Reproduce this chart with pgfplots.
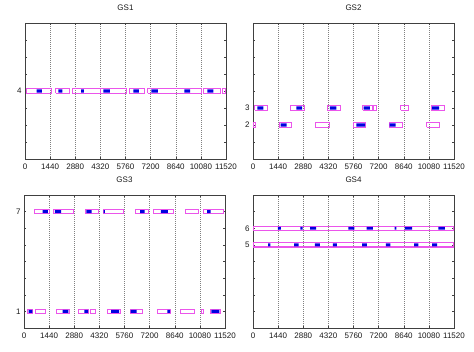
\documentclass[border=0pt]{standalone}
\usepackage{fontspec}
\setmainfont{Liberation Sans}
\usepackage{pgfplots}
\pgfplotsset{compat=1.18}
\definecolor{mag}{RGB}{235,85,235}
\definecolor{job}{RGB}{0,0,225}
\pgfplotsset{
  gs/.style={
    scale only axis, width=201pt,
    anchor=south west,
    xmin=0, xmax=11520, ymin=0, ymax=8,
    xtick={0,1440,2880,4320,5760,7200,8640,10080,11520},
    xticklabels={0,1440,2880,4320,5760,7200,8640,10080,11520},
    scaled x ticks=false,
    ytick={0,1,...,8},
    tick align=inside, major tick length=2pt,
    xmajorgrids,
    grid style={black!50, dash pattern=on 0.6pt off 1.4pt, line width=0.4pt},
    axis line style={black!75, line width=0.5pt},
    tick style={black!75, line width=0.4pt},
    tick label style={font=\fontsize{8}{9}\selectfont, text=black!90},
    xticklabel style={yshift=-1pt},
    title style={font=\fontsize{8}{9}\selectfont, text=black!90, yshift=3pt},
    unbounded coords=jump,
  },
  mbox/.style={draw=mag, line width=0.7pt, fill=none, mark=none},
  jfill/.style={fill=job, draw=none, mark=none},
}
\begin{document}
\begin{tikzpicture}
\path[use as bounding box] (0pt,0pt) rectangle (474pt,351pt);

% ---------------- GS1 ----------------
\begin{axis}[gs, at={(25pt,192pt)}, height=136pt, title={GS1},
  yticklabels={,,,,4,,,,}]
\addplot[mbox] coordinates {
(60,3.87) (1530,3.87) (1530,4.13) (60,4.13) (60,3.87) (60,nan)
(1760,3.87) (2540,3.87) (2540,4.13) (1760,4.13) (1760,3.87) (1760,nan)
(2690,3.87) (4300,3.87) (4300,4.13) (2690,4.13) (2690,3.87) (2690,nan)
(4300,3.87) (5790,3.87) (5790,4.13) (4300,4.13) (4300,3.87) (4300,nan)
(5980,3.87) (6820,3.87) (6820,4.13) (5980,4.13) (5980,3.87) (5980,nan)
(7030,3.87) (10130,3.87) (10130,4.13) (7030,4.13) (7030,3.87) (7030,nan)
(10220,3.87) (11170,3.87) (11170,4.13) (10220,4.13) (10220,3.87) (10220,nan)
(11290,3.87) (11500,3.87) (11500,4.13) (11290,4.13) (11290,3.87)
};
\addplot[jfill] coordinates {
(670,3.91) (970,3.91) (970,4.09) (670,4.09) (670,nan)
(1910,3.91) (2140,3.91) (2140,4.09) (1910,4.09) (1910,nan)
(3210,3.91) (3380,3.91) (3380,4.09) (3210,4.09) (3210,nan)
(4490,3.91) (4870,3.91) (4870,4.09) (4490,4.09) (4490,nan)
(6210,3.91) (6520,3.91) (6520,4.09) (6210,4.09) (6210,nan)
(7250,3.91) (7620,3.91) (7620,4.09) (7250,4.09) (7250,nan)
(9130,3.91) (9470,3.91) (9470,4.09) (9130,4.09) (9130,nan)
(10450,3.91) (10790,3.91) (10790,4.09) (10450,4.09)
};
\end{axis}

% ---------------- GS2 ----------------
\begin{axis}[gs, at={(253pt,192pt)}, height=136pt, title={GS2},
  yticklabels={,,2,3,,,,,}]
\addplot[mbox] coordinates {
(100,2.87) (820,2.87) (820,3.13) (100,3.13) (100,2.87) (100,nan)
(2120,2.87) (2920,2.87) (2920,3.13) (2120,3.13) (2120,2.87) (2120,nan)
(4240,2.87) (5000,2.87) (5000,3.13) (4240,3.13) (4240,2.87) (4240,nan)
(6290,2.87) (6820,2.87) (6820,3.13) (6290,3.13) (6290,2.87) (6290,nan)
(6900,2.87) (7090,2.87) (7090,3.13) (6900,3.13) (6900,2.87) (6900,nan)
(8460,2.87) (8920,2.87) (8920,3.13) (8460,3.13) (8460,2.87) (8460,nan)
(10220,2.87) (10950,2.87) (10950,3.13) (10220,3.13) (10220,2.87) (10220,nan)
(0,1.87) (130,1.87) (130,2.13) (0,2.13) (0,1.87) (0,nan)
(1490,1.87) (2200,1.87) (2200,2.13) (1490,2.13) (1490,1.87) (1490,nan)
(3550,1.87) (4360,1.87) (4360,2.13) (3550,2.13) (3550,1.87) (3550,nan)
(5750,1.87) (6460,1.87) (6460,2.13) (5750,2.13) (5750,1.87) (5750,nan)
(7810,1.87) (8560,1.87) (8560,2.13) (7810,2.13) (7810,1.87) (7810,nan)
(9950,1.87) (10660,1.87) (10660,2.13) (9950,2.13) (9950,1.87)
};
\addplot[jfill] coordinates {
(250,2.91) (590,2.91) (590,3.09) (250,3.09) (250,nan)
(2480,2.91) (2810,2.91) (2810,3.09) (2480,3.09) (2480,nan)
(4410,2.91) (4780,2.91) (4780,3.09) (4410,3.09) (4410,nan)
(6340,2.91) (6700,2.91) (6700,3.09) (6340,3.09) (6340,nan)
(10260,2.91) (10660,2.91) (10660,3.09) (10260,3.09) (10260,nan)
(1590,1.91) (1930,1.91) (1930,2.09) (1590,2.09) (1590,nan)
(5920,1.91) (6420,1.91) (6420,2.09) (5920,2.09) (5920,nan)
(7830,1.91) (8180,1.91) (8180,2.09) (7830,2.09)
};
\end{axis}

% ---------------- GS3 ----------------
\begin{axis}[gs, at={(24pt,23pt)}, height=133pt, title={GS3},
  yticklabels={,1,,,,,,7,}]
\addplot[mbox] coordinates {
(600,6.87) (1460,6.87) (1460,7.13) (600,7.13) (600,6.87) (600,nan)
(1690,6.87) (2820,6.87) (2820,7.13) (1690,7.13) (1690,6.87) (1690,nan)
(3530,6.87) (4270,6.87) (4270,7.13) (3530,7.13) (3530,6.87) (3530,nan)
(4540,6.87) (5720,6.87) (5720,7.13) (4540,7.13) (4540,6.87) (4540,nan)
(6390,6.87) (7140,6.87) (7140,7.13) (6390,7.13) (6390,6.87) (6390,nan)
(7400,6.87) (8570,6.87) (8570,7.13) (7400,7.13) (7400,6.87) (7400,nan)
(9230,6.87) (9970,6.87) (9970,7.13) (9230,7.13) (9230,6.87) (9230,nan)
(10260,6.87) (11440,6.87) (11440,7.13) (10260,7.13) (10260,6.87) (10260,nan)
(220,0.87) (500,0.87) (500,1.13) (220,1.13) (220,0.87) (220,nan)
(660,0.87) (1220,0.87) (1220,1.13) (660,1.13) (660,0.87) (660,nan)
(1880,0.87) (2600,0.87) (2600,1.13) (1880,1.13) (1880,0.87) (1880,nan)
(3130,0.87) (3710,0.87) (3710,1.13) (3130,1.13) (3130,0.87) (3130,nan)
(3810,0.87) (4090,0.87) (4090,1.13) (3810,1.13) (3810,0.87) (3810,nan)
(4780,0.87) (5500,0.87) (5500,1.13) (4780,1.13) (4780,0.87) (4780,nan)
(6080,0.87) (6810,0.87) (6810,1.13) (6080,1.13) (6080,0.87) (6080,nan)
(7660,0.87) (8400,0.87) (8400,1.13) (7660,1.13) (7660,0.87) (7660,nan)
(8960,0.87) (9780,0.87) (9780,1.13) (8960,1.13) (8960,0.87) (8960,nan)
(10140,0.87) (10290,0.87) (10290,1.13) (10140,1.13) (10140,0.87) (10140,nan)
(10660,0.87) (11250,0.87) (11250,1.13) (10660,1.13) (10660,0.87)
};
\addplot[jfill] coordinates {
(1070,6.91) (1370,6.91) (1370,7.09) (1070,7.09) (1070,nan)
(1770,6.91) (2130,6.91) (2130,7.09) (1770,7.09) (1770,nan)
(3580,6.91) (3870,6.91) (3870,7.09) (3580,7.09) (3580,nan)
(4570,6.91) (4640,6.91) (4640,7.09) (4570,7.09) (4570,nan)
(6650,6.91) (6910,6.91) (6910,7.09) (6650,7.09) (6650,nan)
(7840,6.91) (8250,6.91) (8250,7.09) (7840,7.09) (7840,nan)
(10500,6.91) (10700,6.91) (10700,7.09) (10500,7.09) (10500,nan)
(260,0.91) (480,0.91) (480,1.09) (260,1.09) (260,nan)
(2210,0.91) (2550,0.91) (2550,1.09) (2210,1.09) (2210,nan)
(3460,0.91) (3680,0.91) (3680,1.09) (3460,1.09) (3460,nan)
(5000,0.91) (5450,0.91) (5450,1.09) (5000,1.09) (5000,nan)
(6110,0.91) (6450,0.91) (6450,1.09) (6110,1.09) (6110,nan)
(8210,0.91) (8380,0.91) (8380,1.09) (8210,1.09) (8210,nan)
(10740,0.91) (11200,0.91) (11200,1.09) (10740,1.09)
};
\end{axis}

% ---------------- GS4 ----------------
\begin{axis}[gs, at={(253pt,23pt)}, height=133pt, title={GS4},
  yticklabels={,,,,,5,6,,}]
\addplot[mbox, line width=1.1pt] coordinates {
(0,5.87) (11520,5.87) (11520,6.13) (0,6.13) (0,5.87) (0,nan)
(0,4.87) (11520,4.87) (11520,5.13) (0,5.13) (0,4.87)
};
\addplot[jfill] coordinates {
(1430,5.91) (1600,5.91) (1600,6.09) (1430,6.09) (1430,nan)
(2720,5.91) (2840,5.91) (2840,6.09) (2720,6.09) (2720,nan)
(3280,5.91) (3620,5.91) (3620,6.09) (3280,6.09) (3280,nan)
(5470,5.91) (5810,5.91) (5810,6.09) (5470,6.09) (5470,nan)
(6510,5.91) (6870,5.91) (6870,6.09) (6510,6.09) (6510,nan)
(8110,5.91) (8210,5.91) (8210,6.09) (8110,6.09) (8110,nan)
(8700,5.91) (9120,5.91) (9120,6.09) (8700,6.09) (8700,nan)
(10630,5.91) (10990,5.91) (10990,6.09) (10630,6.09) (10630,nan)
(870,4.91) (990,4.91) (990,5.09) (870,5.09) (870,nan)
(2360,4.91) (2610,4.91) (2610,5.09) (2360,5.09) (2360,nan)
(3540,4.91) (3830,4.91) (3830,5.09) (3540,5.09) (3540,nan)
(4580,4.91) (4810,4.91) (4810,5.09) (4580,5.09) (4580,nan)
(6250,4.91) (6530,4.91) (6530,5.09) (6250,5.09) (6250,nan)
(7620,4.91) (7870,4.91) (7870,5.09) (7620,5.09) (7620,nan)
(9230,4.91) (9480,4.91) (9480,5.09) (9230,5.09) (9230,nan)
(10260,4.91) (10550,4.91) (10550,5.09) (10260,5.09)
};
\end{axis}
\end{tikzpicture}
\end{document}
